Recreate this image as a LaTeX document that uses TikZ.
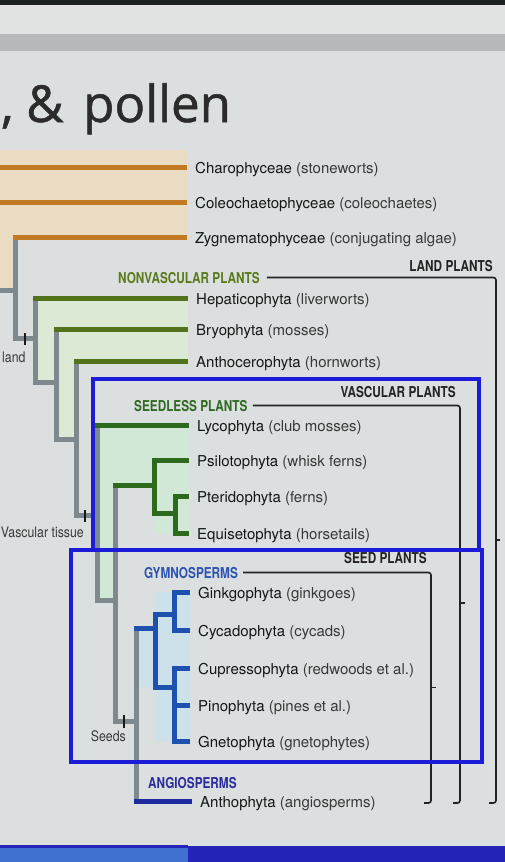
\documentclass[tikz,border=0pt]{standalone}
\usepackage{fontspec}
\setmainfont{TeX Gyre Heros}
\newfontfamily\condfont[FakeStretch=0.785]{TeX Gyre Heros}
\newfontfamily\narrowfont[FakeStretch=0.85]{TeX Gyre Heros}
\newfontfamily\titlefont[FakeBold=1]{Open Sans}
\newcommand\plab[1]{\textcolor{partext}{#1}}
\begin{document}
\begin{tikzpicture}[x=1pt,y=-1pt,
  branch/.style={line width=5pt, line join=miter, line cap=butt},
  stem/.style={branch, draw=stemgray},
  alga/.style={branch, draw=algaline},
  nonvasc/.style={branch, draw=nvline},
  seedless/.style={branch, draw=slline},
  gymno/.style={branch, draw=gyline},
  angio/.style={branch, draw=anline},
  taxon/.style={anchor=base west, inner sep=0pt, font=\fontsize{15}{18}\selectfont, text=taxtext},
  grp/.style={anchor=base west, inner sep=0pt, font=\condfont\bfseries\fontsize{15}{18}\selectfont},
  clade/.style={anchor=base east, inner sep=0pt, font=\condfont\bfseries\fontsize{15}{18}\selectfont, text=brk},
  trait/.style={inner sep=0pt, font=\narrowfont\fontsize{14.5}{17}\selectfont, text=traittext},
  title/.style={anchor=base west, inner sep=0pt, font=\titlefont\fontsize{51}{60}\selectfont, text=titletext},
  tick/.style={line width=2.8pt, draw=black!90},
  bracket/.style={draw=brk, line width=1.6pt, rounded corners=2.5pt},
  box/.style={draw=boxblue, line width=4.5pt}]
\definecolor{bg}{HTML}{DCDFDF}
\definecolor{topdark}{HTML}{1B2020}
\definecolor{topgray}{HTML}{E1E3E3}
\definecolor{bargray}{HTML}{B7BABA}
\definecolor{titletext}{HTML}{2B2B2B}
\definecolor{beige}{HTML}{E9DCC3}
\definecolor{algaline}{HTML}{C27A25}
\definecolor{stemgray}{HTML}{7D898E}
\definecolor{nvline}{HTML}{52721B}
\definecolor{nvfill}{HTML}{DCE9D4}
\definecolor{slline}{HTML}{2E6A1E}
\definecolor{slfill}{HTML}{D1E8D6}
\definecolor{gyline}{HTML}{1E50AE}
\definecolor{gyfill}{HTML}{CDE1EA}
\definecolor{anline}{HTML}{1E2A9E}
\definecolor{boxblue}{HTML}{1C1CD8}
\definecolor{nvtext}{HTML}{5A7A1C}
\definecolor{sltext}{HTML}{2F6A22}
\definecolor{gytext}{HTML}{2B54B2}
\definecolor{antext}{HTML}{2A2C9E}
\definecolor{brk}{HTML}{232323}
\definecolor{taxtext}{HTML}{161616}
\definecolor{partext}{HTML}{383838}
\definecolor{traittext}{HTML}{3A3A3A}
\definecolor{bandblue}{HTML}{2424B8}
\definecolor{bandlight}{HTML}{4070D0}
% page, screen edge and title
\useasboundingbox (0,0) rectangle (505,862);
\fill[bg] (0,0) rectangle (505,862);
\fill[topgray] (0,5) rectangle (505,34);
\fill[topdark] (0,0) rectangle (505,5);
\fill[bargray] (0,34) rectangle (505,51);
\node[title] (comma) at (1,122) {,};
\node[title] (amp) at (26,122) {\&};
\node[title] (pollen) at (83,122) {pollen};
% clade shading
\fill[beige] (0,150) -- (188,150) -- (188,240) -- (12.5,240) -- (12.5,290) -- (0,290) -- cycle;
\fill[nvfill] (35.5,298.5) -- (188,298.5) -- (188,361.5) -- (76.5,361.5) -- (76.5,439) -- (56.5,439) -- (56.5,382.5) -- (35.5,382.5) -- cycle;
\fill[slfill] (97.5,425.5) -- (190,425.5) -- (190,533.5) -- (154.5,533.5) -- (154.5,485.5) -- (115.5,485.5) -- (115.5,600) -- (97.5,600) -- cycle;
\fill[gyfill] (155.5,592) -- (190,592) -- (190,741.5) -- (155.5,741.5) -- (155.5,687) -- (136.5,687) -- (136.5,628.5) -- (155.5,628.5) -- cycle;
% tips
\coordinate (charoTip) at (187,167);
\coordinate (coleoTip) at (187,202);
\coordinate (zygTip) at (187,237.5);
\coordinate (hepTip) at (188,298.5);
\coordinate (bryoTip) at (188,329.5);
\coordinate (hornTip) at (188,361.5);
\coordinate (lycoTip) at (189,425.5);
\coordinate (psiloTip) at (189,460.5);
\coordinate (pteriTip) at (189,496.5);
\coordinate (equisTip) at (189,533.5);
\coordinate (ginkTip) at (190,592);
\coordinate (cycTip) at (190,630);
\coordinate (cupTip) at (190,668.5);
\coordinate (pinoTip) at (190,705);
\coordinate (gneTip) at (190,741.5);
\coordinate (angTip) at (192,801.5);
% branch points
\coordinate (rootN) at (15,290.5);
\coordinate (landN) at (35.5,338.5);
\coordinate (mossN) at (56.5,382.5);
\coordinate (hornN) at (76.5,439);
\coordinate (vascN) at (97.5,515.5);
\coordinate (euphN) at (115.5,600);
\coordinate (seedN) at (136.5,721);
% grey stems
\draw[stem] (0,290.5) -- (rootN);
\draw[stem] (15,237.5) |- (landN);
\draw[stem] (35.5,298.5) |- (mossN);
\draw[stem] (56.5,329.5) |- (hornN);
\draw[stem] (76.5,361.5) |- (vascN);
\draw[stem] (97.5,425.5) |- (euphN);
\draw[stem] (115.5,485.5) |- (seedN);
\draw[stem] (136.5,628.5) -- (136.5,801.5);
% coloured branches
\draw[alga] (0,167) -- (charoTip);
\draw[alga] (0,202) -- (coleoTip);
\draw[alga] (12.5,237.5) -- (zygTip);
\draw[nonvasc] (33,298.5) -- (hepTip);
\draw[nonvasc] (54,329.5) -- (bryoTip);
\draw[nonvasc] (74,361.5) -- (hornTip);
\draw[seedless] (95,425.5) -- (lycoTip);
\draw[seedless] (113,485.5) -- (154.5,485.5);
\draw[seedless] (psiloTip) -| (154.5,513.5) -- (175.5,513.5);
\draw[seedless] (pteriTip) -| (175.5,533.5) -- (equisTip);
\draw[gymno] (134,628.5) -- (155.5,628.5);
\draw[gymno] (174.5,614) -| (155.5,687) -- (174.5,687);
\draw[gymno] (ginkTip) -| (174.5,630) -- (cycTip);
\draw[gymno] (cupTip) -| (174.5,741.5) -- (gneTip);
\draw[gymno] (174.5,705) -- (pinoTip);
\draw[angio] (134,801.5) -- (angTip);
% trait marks
\draw[tick] (25,333) -- (25,345);
\draw[tick] (85,510) -- (85,522);
\draw[tick] (124,715) -- (124,728);
\node[trait, anchor=base west] (landLbl) at (2,362) {land};
\node[trait, anchor=base east] (vascLbl) at (84,537) {Vascular tissue};
\node[trait, anchor=base east] (seedLbl) at (126,741) {Seeds};
% taxa
\node[taxon] (charo) at ([xshift=8pt,yshift=-6pt]charoTip) {Charophyceae \plab{(stoneworts)}};
\node[taxon] (coleo) at ([xshift=8pt,yshift=-6pt]coleoTip) {Coleochaetophyceae \plab{(coleochaetes)}};
\node[taxon] (zyg) at ([xshift=8pt,yshift=-6pt]zygTip) {Zygnematophyceae \plab{(conjugating algae)}};
\node[taxon] (hep) at ([xshift=8pt,yshift=-6pt]hepTip) {Hepaticophyta \plab{(liverworts)}};
\node[taxon] (bryo) at ([xshift=8pt,yshift=-6pt]bryoTip) {Bryophyta \plab{(mosses)}};
\node[taxon] (horn) at ([xshift=8pt,yshift=-6pt]hornTip) {Anthocerophyta \plab{(hornworts)}};
\node[taxon] (lyco) at ([xshift=8pt,yshift=-6pt]lycoTip) {Lycophyta \plab{(club mosses)}};
\node[taxon] (psilo) at ([xshift=8pt,yshift=-6pt]psiloTip) {Psilotophyta \plab{(whisk ferns)}};
\node[taxon] (pteri) at ([xshift=8pt,yshift=-6pt]pteriTip) {Pteridophyta \plab{(ferns)}};
\node[taxon] (equis) at ([xshift=8pt,yshift=-6pt]equisTip) {Equisetophyta \plab{(horsetails)}};
\node[taxon] (gink) at ([xshift=8pt,yshift=-6pt]ginkTip) {Ginkgophyta \plab{(ginkgoes)}};
\node[taxon] (cyc) at ([xshift=8pt,yshift=-6pt]cycTip) {Cycadophyta \plab{(cycads)}};
\node[taxon] (cup) at ([xshift=8pt,yshift=-6pt]cupTip) {Cupressophyta \plab{(redwoods et al.)}};
\node[taxon] (pino) at ([xshift=8pt,yshift=-6pt]pinoTip) {Pinophyta \plab{(pines et al.)}};
\node[taxon] (gne) at ([xshift=8pt,yshift=-6pt]gneTip) {Gnetophyta \plab{(gnetophytes)}};
\node[taxon] (ang) at ([xshift=8pt,yshift=-6pt]angTip) {Anthophyta \plab{(angiosperms)}};
% groups and brackets
\node[grp, text=nvtext] (nvLbl) at (118,283) {NONVASCULAR PLANTS};
\node[grp, text=sltext] (slLbl) at (134,411) {SEEDLESS PLANTS};
\node[grp, text=gytext] (gyLbl) at (144,578) {GYMNOSPERMS};
\node[grp, text=antext] (anLbl) at (148,788) {ANGIOSPERMS};
\node[clade] (landPl) at (493,271) {LAND PLANTS};
\node[clade] (vascPl) at (456,397) {VASCULAR PLANTS};
\node[clade] (seedPl) at (427,563) {SEED PLANTS};
\draw[bracket] ([xshift=7pt]nvLbl.east) -| (496,803) -- (489,803);
\draw[bracket] ([xshift=5pt]slLbl.east) -| (460,803) -- (453,803);
\draw[bracket] ([xshift=5pt]gyLbl.east) -| (431,803) -- (424,803);
\draw[bracket] (496,540) -- (500,540);
\draw[bracket] (460,603) -- (465,603);
\draw[bracket] (431,687.5) -- (436,687.5);
% blue frames
\draw[box] (93,379) rectangle (479,550);
\draw[box] (71,550) rectangle (482,762);
% bottom edge
\fill[bandlight] (0,848) rectangle (188,862);
\fill[bandblue] (188,846) rectangle (505,862);
\draw[draw=bandblue, line width=3pt] (0,846) -- (188,846);
\end{tikzpicture}
\end{document}
